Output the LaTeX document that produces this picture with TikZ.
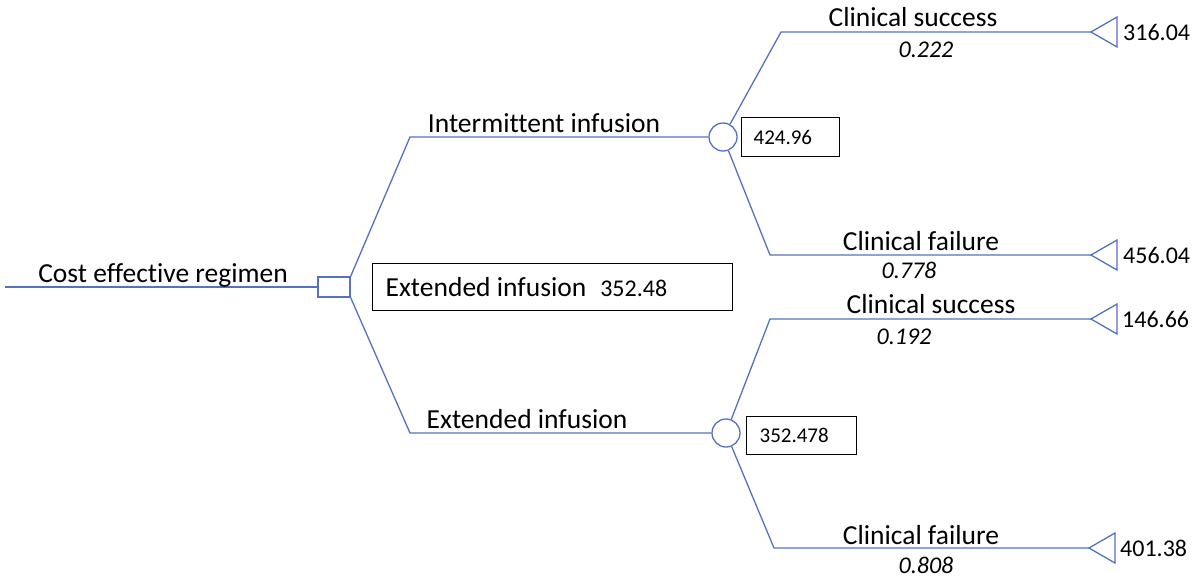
\documentclass[tikz,border=0pt]{standalone}
\usepackage{fontspec}
\setmainfont{Carlito}[Ligatures=NoCommon]
\usepackage{tikz}
\usetikzlibrary{positioning}

\definecolor{treeblue}{RGB}{84,114,192}

\tikzset{
  branch/.style={draw=treeblue,line width=1.3pt},
  decbox/.style={draw=treeblue,fill=white,line width=1.3pt,minimum width=32pt,minimum height=20pt,inner sep=0pt},
  chance/.style={circle,draw=treeblue,fill=white,line width=1.3pt,minimum size=28pt,inner sep=0pt},
  valbox/.style={draw=black,line width=1.2pt,inner ysep=0pt,font=\fontsize{21}{24}\selectfont},
  lbl/.style={anchor=base,inner sep=0pt,font=\fontsize{27.5}{30}\selectfont},
  prob/.style={anchor=base,inner sep=0pt,font=\fontsize{24}{28}\selectfont\itshape},
  payoff/.style={anchor=west,inner sep=0pt,font=\fontsize{24}{28}\selectfont}
}

\begin{document}
\begin{tikzpicture}[x=1pt,y=-1pt]
    \useasboundingbox (0,0) rectangle (1200,584);

    % decision and chance nodes
    \coordinate (root) at (5,287);
    \node[decbox] (dec) at (334,287) {};
    \coordinate (kI) at (410,137);
    \coordinate (kE) at (410,433);
    \node[chance] (chI) at (723,137) {};
    \node[chance] (chE) at (726,433) {};

    % branch corners and end points
    \coordinate (kIs) at (781,32);
    \coordinate (kIf) at (770,255);
    \coordinate (kEs) at (770,319);
    \coordinate (kEf) at (774,548);
    \coordinate (tIs) at (1091,32);
    \coordinate (tIf) at (1091,255);
    \coordinate (tEs) at (1091,319);
    \coordinate (tEf) at (1089,548);

    \draw[branch] (root) -- (dec);
    \draw[branch] (dec.north east) -- (kI) -- (chI);
    \draw[branch] (dec.south east) -- (kE) -- (chE);
    \draw[branch] (chI) -- (kIs) -- (tIs);
    \draw[branch] (chI) -- (kIf) -- (tIf);
    \draw[branch] (chE) -- (kEs) -- (tEs);
    \draw[branch] (chE) -- (kEf) -- (tEf);

    % terminal triangles
    \foreach \t in {tIs,tIf,tEs,tEf}
        \draw[branch,line join=miter] (\t) -- ++(26,-15) -- ++(0,30) -- cycle;

    % labels
    \node[lbl] (lroot) at (163,282) {Cost effective regimen};
    \node[lbl] (lint) at (544,132) {Intermittent infusion};
    \node[lbl] (lext) at (527,428) {Extended infusion};
    \node[lbl] (lIs) at (913,26) {Clinical success};
    \node[lbl] (lIf) at (921,250) {Clinical failure};
    \node[lbl] (lEs) at (931,313) {Clinical success};
    \node[lbl] (lEf) at (921,544) {Clinical failure};
    \node[prob] (pIs) at (926,57) {0.222};
    \node[prob] (pIf) at (909,278) {0.778};
    \node[prob] (pEs) at (904,344) {0.192};
    \node[prob] (pEf) at (926,573) {0.808};

    % payoffs
    \node[payoff] (vIs) at (1123,32) {316.04};
    \node[payoff] (vIf) at (1123,255) {456.04};
    \node[payoff] (vEs) at (1122,319) {146.66};
    \node[payoff] (vEf) at (1120,548) {401.38};

    % expected values
    \node[valbox,anchor=north west,inner xsep=12pt,minimum height=39pt] (eI) at (741,117) {\makebox[74pt][l]{424.96}};
    \node[valbox,anchor=north west,inner xsep=13pt,minimum height=38pt] (eE) at (746,416) {\makebox[84pt][l]{352.478}};
    \node[valbox,anchor=north west,inner xsep=13pt,minimum height=47pt,font=\fontsize{27.5}{30}\selectfont] (best) at (372,263)
        {\makebox[334pt][l]{Extended infusion\hspace{14pt}{\fontsize{24}{28}\selectfont 352.48}}};
\end{tikzpicture}
\end{document}
